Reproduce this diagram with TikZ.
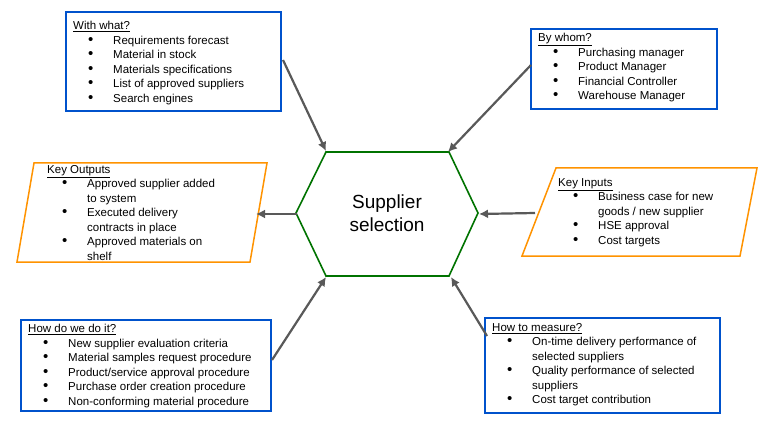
\documentclass[tikz,border=0pt]{standalone}
\usepackage{fontspec}
\setmainfont{Liberation Sans}
\begin{document}
\newcommand{\bi}[1]{\hspace*{15pt}\makebox[25pt][l]{\scalebox{1.3}{\textbullet}}#1}
\newcommand{\bc}[1]{\hspace*{40pt}#1}
\begin{tikzpicture}[x=1pt,y=-1pt,
  bbox/.style={draw=blue!60!cyan!80!black,line width=1.5pt},
  obox/.style={draw=orange!85!yellow,line width=1.5pt},
  txt/.style={anchor=north west,inner sep=0pt,align=left,font=\fontsize{11.5}{14.5}\selectfont},
  arr/.style={draw=black!65,line width=2.2pt,-{Latex[length=9pt,width=9pt]}}]
\usetikzlibrary{arrows.meta}
\useasboundingbox (0,0) rectangle (768,422);
\fill[white] (0,0) rectangle (768,422);
% hexagon
\draw[draw=green!45!black,line width=1.6pt] (296,213)--(326,152)--(449,152)--(478,213)--(449,276)--(326,276)--cycle;
\node[font=\fontsize{19}{23}\selectfont,align=center] (hex) at (387,213) {Supplier\\selection};
\coordinate (hl) at (297,214); \coordinate (hr) at (479,214);
\coordinate (htl) at (326,151); \coordinate (htr) at (448,152);
\coordinate (hbl) at (326,277); \coordinate (hbr) at (451,277);
% boxes
\draw[bbox] (66,12) rectangle (281,111);
\node[txt] (w) at (73,21) {\underline{With what?}\\\bi{Requirements forecast}\\\bi{Material in stock}\\\bi{Materials specifications}\\\bi{List of approved suppliers}\\\bi{Search engines}};
\draw[bbox] (531,29) rectangle (717,109);
\node[txt] (b) at (538,33) {\underline{By whom?}\\\bi{Purchasing manager}\\\bi{Product Manager}\\\bi{Financial Controller}\\\bi{Warehouse Manager}};
\draw[obox] (34,163)--(267,163)--(250,262)--(17,262)--cycle;
\node[txt] (o) at (47,165) {\underline{Key Outputs}\\\bi{Approved supplier added}\\\bc{to system}\\\bi{Executed delivery}\\\bc{contracts in place}\\\bi{Approved materials on}\\\bc{shelf}};
\draw[obox] (556,168)--(757,168)--(740,256)--(522,256)--cycle;
\node[txt] (i) at (558,178) {\underline{Key Inputs}\\\bi{Business case for new}\\\bc{goods / new supplier}\\\bi{HSE approval}\\\bi{Cost targets}};
\draw[bbox] (21,320) rectangle (271,411);
\node[txt] (d) at (28,324) {\underline{How do we do it?}\\\bi{New supplier evaluation criteria}\\\bi{Material samples request procedure}\\\bi{Product/service approval procedure}\\\bi{Purchase order creation procedure}\\\bi{Non-conforming material procedure}};
\draw[bbox] (485,318) rectangle (720,413);
\node[txt] (m) at (492,323) {\underline{How to measure?}\\\bi{On-time delivery performance of}\\\bc{selected suppliers}\\\bi{Quality performance of selected}\\\bc{suppliers}\\\bi{Cost target contribution}};
% arrow ends
\coordinate (wa) at (283,60); \coordinate (ba) at (531,65);
\coordinate (oa) at (256,214); \coordinate (ia) at (535,213);
\coordinate (da) at (272,360); \coordinate (ma) at (487,336);
\draw[arr] (wa)--(htl);
\draw[arr] (ba)--(htr);
\draw[arr] (hl)--(oa);
\draw[arr] (ia)--(hr);
\draw[arr] (da)--(hbl);
\draw[arr] (ma)--(hbr);
\end{tikzpicture}
\end{document}
